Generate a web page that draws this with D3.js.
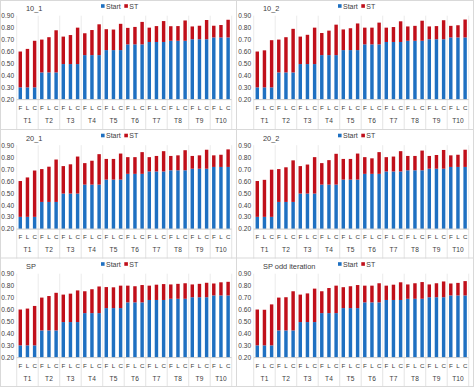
<!DOCTYPE html>
<html>
<head>
<meta charset="utf-8">
<script src="https://cdn.jsdelivr.net/npm/d3@7/dist/d3.min.js"></script>
<style>
html,body{margin:0;padding:0;background:#fff;}
svg{display:block;}
text{font-family:"Liberation Sans",Arial,sans-serif;fill:#404040;}
</style>
</head>
<body>
<svg id="chart" width="474" height="387"></svg>
<script>
const groups = ["T1","T2","T3","T4","T5","T6","T7","T8","T9","T10"];
const subs = ["F","L","C"];
const yTicks = [0.2,0.3,0.4,0.5,0.6,0.7,0.8,0.9];
const seriesNames = ["Start","ST"];
const panelTitles = ["10_1","10_2","20_1","20_2","SP","SP odd iteration"];

// Start value per group (same for F, L, C)
const startVals = [0.30,0.425,0.495,0.57,0.612,0.66,0.68,0.69,0.703,0.718];

// Total (Start + ST) per bar, F L C for T1..T10
const total_10_1 = [0.60,0.622,0.69, 0.70,0.72,0.778, 0.725,0.738,0.80, 0.753,0.78,0.828, 0.787,0.784,0.832, 0.798,0.806,0.848, 0.80,0.813,0.855, 0.812,0.813,0.86, 0.81,0.816,0.864, 0.816,0.822,0.866];
const total_10_2 = [0.60,0.61,0.695, 0.70,0.72,0.79, 0.725,0.74,0.80, 0.755,0.775,0.825, 0.785,0.795,0.835, 0.80,0.80,0.842, 0.80,0.805,0.853, 0.81,0.815,0.858, 0.81,0.813,0.862, 0.815,0.82,0.868];
const total_20_1 = [0.60,0.63,0.688, 0.70,0.72,0.78, 0.725,0.74,0.805, 0.75,0.77,0.825, 0.785,0.785,0.83, 0.80,0.80,0.842, 0.80,0.81,0.85, 0.81,0.815,0.858, 0.81,0.815,0.862, 0.815,0.82,0.865];
const total_20_2 = [0.60,0.61,0.695, 0.70,0.715,0.773, 0.725,0.738,0.80, 0.75,0.775,0.828, 0.785,0.785,0.83, 0.80,0.79,0.842, 0.80,0.805,0.85, 0.81,0.81,0.855, 0.81,0.818,0.86, 0.815,0.82,0.862];
const total_SP   = [0.60,0.608,0.63, 0.70,0.713,0.74, 0.725,0.733,0.76, 0.753,0.77,0.793, 0.788,0.786,0.80, 0.80,0.795,0.805, 0.80,0.808,0.813, 0.81,0.815,0.82, 0.81,0.815,0.824, 0.818,0.828,0.832];
const total_SPodd= [0.60,0.598,0.643, 0.70,0.703,0.753, 0.725,0.735,0.775, 0.753,0.78,0.80, 0.787,0.795,0.805, 0.80,0.80,0.82, 0.80,0.808,0.828, 0.81,0.82,0.83, 0.81,0.82,0.835, 0.818,0.823,0.838];
const panelTotals = [total_10_1,total_10_2,total_20_1,total_20_2,total_SP,total_SPodd];

const colors = {Start:"#1f70c1", ST:"#c00f1a"};

const svg = d3.select("#chart");
const W = 474, H = 387;
const colX = [0, 237];
const rowY = [0, 129.5, 258];
const panelW = 237, panelH = 129;

// panel borders
svg.append("rect").attr("x",0.5).attr("y",0.5).attr("width",W-1).attr("height",H-1)
  .attr("fill","none").attr("stroke","#d9d9d9");
svg.append("line").attr("x1",236.5).attr("x2",236.5).attr("y1",0).attr("y2",H).attr("stroke","#d9d9d9");
svg.append("line").attr("x1",0).attr("x2",W).attr("y1",129.5).attr("y2",129.5).attr("stroke","#d9d9d9");
svg.append("line").attr("x1",0).attr("x2",W).attr("y1",258).attr("y2",258).attr("stroke","#d9d9d9");

const barKeys = [];
groups.forEach(g => subs.forEach(s => barKeys.push(g + "|" + s)));

panelTitles.forEach((title, i) => {
  const ox = colX[i % 2], oy = rowY[Math.floor(i / 2)];
  const g = svg.append("g").attr("transform", `translate(${ox},${oy})`);
  const left = 16.7, right = 231.7, top = 15.7, bottom = 99.3;

  const x = d3.scaleBand().domain(barKeys).range([left, right]).paddingInner(0.52).paddingOuter(0.26);
  const gx = d3.scaleBand().domain(groups).range([left, right]);
  const y = d3.scaleLinear().domain([0.2, 0.9]).range([bottom, top]);

  // vertical gridlines at group boundaries
  g.append("g").selectAll("line").data(groups.concat(["end"])).join("line")
    .attr("x1", (d, k) => left + k * gx.bandwidth()).attr("x2", (d, k) => left + k * gx.bandwidth())
    .attr("y1", top).attr("y2", bottom).attr("stroke", "#e3e3e3").attr("stroke-width", 0.7);

  const totals = panelTotals[i];
  const data = barKeys.map((key, k) => {
    const gi = Math.floor(k / 3);
    return {key, start: startVals[gi], total: totals[k]};
  });

  // Start bars
  g.append("g").selectAll("rect").data(data).join("rect")
    .attr("x", d => x(d.key)).attr("width", x.bandwidth())
    .attr("y", d => y(d.start)).attr("height", d => y(0.2) - y(d.start))
    .attr("fill", colors.Start);
  // ST bars
  g.append("g").selectAll("rect").data(data).join("rect")
    .attr("x", d => x(d.key)).attr("width", x.bandwidth())
    .attr("y", d => y(d.total)).attr("height", d => y(d.start) - y(d.total))
    .attr("fill", colors.ST);

  // y axis
  const ya = d3.axisLeft(y).tickValues(yTicks).tickFormat(d3.format(".2f")).tickSize(0).tickPadding(2.5);
  const yg = g.append("g").attr("transform", `translate(${left},0)`).call(ya);
  yg.select(".domain").remove();
  yg.selectAll("text").attr("font-size", "6.6px").style("fill", "#404040");

  // x axis line
  g.append("line").attr("x1", left).attr("x2", right).attr("y1", bottom + 0.3).attr("y2", bottom + 0.3)
    .attr("stroke", "#bfbfbf").attr("stroke-width", 0.8);

  // sub labels
  const xa = d3.axisBottom(x).tickFormat(d => d.split("|")[1]).tickSize(0).tickPadding(6);
  const xg = g.append("g").attr("transform", `translate(0,${bottom})`).call(xa);
  xg.select(".domain").remove();
  xg.selectAll("text").attr("font-size", "6.2px").style("fill", "#404040");

  // group labels
  const ga = d3.axisBottom(gx).tickSize(0).tickPadding(19);
  const gg = g.append("g").attr("transform", `translate(0,${bottom})`).call(ga);
  gg.select(".domain").remove();
  gg.selectAll("text").attr("font-size", "6.6px").style("fill", "#404040");

  // group separators below axis
  g.append("g").selectAll("line").data(groups.concat(["end"])).join("line")
    .attr("x1", (d, k) => left + k * gx.bandwidth()).attr("x2", (d, k) => left + k * gx.bandwidth())
    .attr("y1", bottom).attr("y2", panelH).attr("stroke", "#d9d9d9").attr("stroke-width", 0.7);

  // title
  g.append("text").attr("x", 26).attr("y", 11).attr("font-size", "7.4px").text(title);

  // legend
  const leg = g.append("g");
  let lx = 101;
  seriesNames.forEach(name => {
    leg.append("rect").attr("x", lx).attr("y", 4.2).attr("width", 3.6).attr("height", 3.6).attr("fill", colors[name]);
    const t = leg.append("text").attr("x", lx + 5).attr("y", 8.6).attr("font-size", "7px").text(name);
    lx += 5 + t.node().getComputedTextLength() + 3.5;
  });
});
</script>
</body>
</html>
